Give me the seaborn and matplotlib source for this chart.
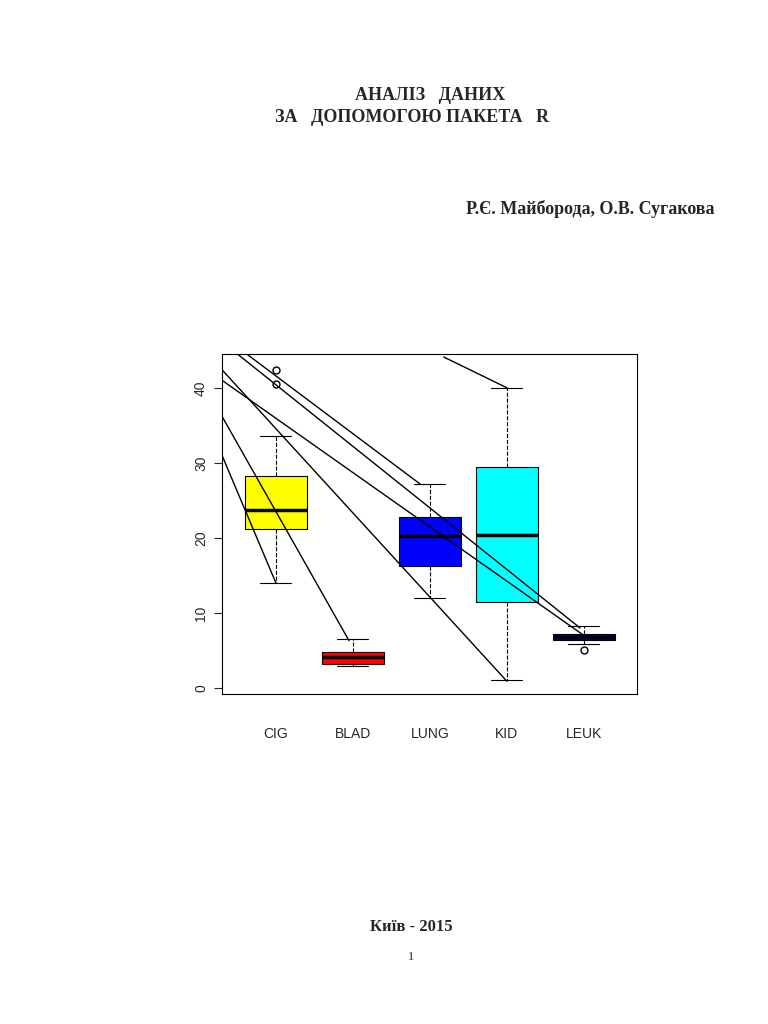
import numpy as np
import pandas as pd
import seaborn as sns
import matplotlib.pyplot as plt

# box summaries
groups = ["CIG", "BLAD", "LUNG", "KID", "LEUK"]
whis_lo = [14.0, 2.9, 12.0, 1.0, 5.8]
q1 = [21.2, 3.2, 16.3, 11.5, 6.4]
med = [23.7, 4.1, 20.3, 20.4, 6.8]
q3 = [28.2, 4.8, 22.8, 29.5, 7.2]
whis_hi = [33.6, 6.5, 27.2, 40.0, 8.3]
outliers = [[40.5, 42.4], [], [], [], [5.0]]
box_colors = ["yellow", "red", "blue", "cyan", "navy"]

# stray segments across the plot (x0, y0, x1, y1)
seg_x0 = [0.30, 0.30, 0.30, 0.30, 0.50, 0.62, 3.18]
seg_y0 = [31.0, 36.2, 42.4, 41.0, 44.5, 44.5, 44.1]
seg_x1 = [1.00, 1.95, 4.00, 5.00, 4.95, 2.87, 4.00]
seg_y1 = [14.0, 6.3, 0.9, 7.0, 8.0, 27.2, 40.0]

sns.set_style("white")
plt.rcParams['font.family'] = ['Liberation Serif', 'DejaVu Serif']

fig = plt.figure(figsize=(7.68, 10.24), dpi=100)

fig.text(0.56, 1 - 95 / 1024, "АНАЛІЗ   ДАНИХ", ha="center", va="center", fontsize=13, fontweight="bold")
fig.text(0.536, 1 - 117 / 1024, "ЗА   ДОПОМОГОЮ ПАКЕТА   R", ha="center", va="center", fontsize=13, fontweight="bold")
fig.text(0.93, 1 - 209 / 1024, "Р.Є. Майборода, О.В. Сугакова", ha="right", va="center", fontsize=13, fontweight="bold")
fig.text(0.535, 1 - 927 / 1024, "Київ - 2015", ha="center", va="center", fontsize=12, fontweight="bold")
fig.text(0.535, 1 - 957 / 1024, "1", ha="center", va="center", fontsize=9)

ax = fig.add_axes([222 / 768, 1 - 694 / 1024, 415 / 768, 340 / 1024])
stats = []
for i, g in enumerate(groups):
    stats.append(dict(label=g, whislo=whis_lo[i], q1=q1[i], med=med[i], q3=q3[i],
                      whishi=whis_hi[i], fliers=outliers[i]))
bp = ax.bxp(stats, positions=range(1, 6), widths=0.8, patch_artist=True,
            whiskerprops=dict(linestyle="--", color="black", linewidth=0.8),
            capprops=dict(color="black", linewidth=0.8),
            medianprops=dict(color="black", linewidth=2.5),
            flierprops=dict(marker="o", markerfacecolor="none", markeredgecolor="black", markersize=5),
            boxprops=dict(edgecolor="black", linewidth=0.8))
for patch, c in zip(bp["boxes"], box_colors):
    patch.set_facecolor(c)
for cap in bp["caps"]:
    cap.set_xdata(np.array(cap.get_xdata()) + np.array([0.2, -0.2]) * 0 )

segs = pd.DataFrame({"x0": seg_x0, "y0": seg_y0, "x1": seg_x1, "y1": seg_y1})
for _, r in segs.iterrows():
    sns.lineplot(x=[r.x0, r.x1], y=[r.y0, r.y1], ax=ax, color="black", linewidth=1)

ax.set_xlim(0.3, 5.69)
ax.set_ylim(-0.8, 44.5)
ax.set_yticks([0, 10, 20, 30, 40])
for lab in ax.get_yticklabels():
    lab.set_rotation(90)
    lab.set_va("center")
    lab.set_family("Liberation Sans")
for lab in ax.get_xticklabels():
    lab.set_family("Liberation Sans")
ax.tick_params(axis="y", left=True, length=6, width=0.8, labelsize=10, pad=4)
ax.tick_params(axis="x", bottom=False, labelsize=10, pad=20)
for s in ax.spines.values():
    s.set_color("black")
    s.set_linewidth(0.8)

fig.savefig("out.png", dpi=100)
